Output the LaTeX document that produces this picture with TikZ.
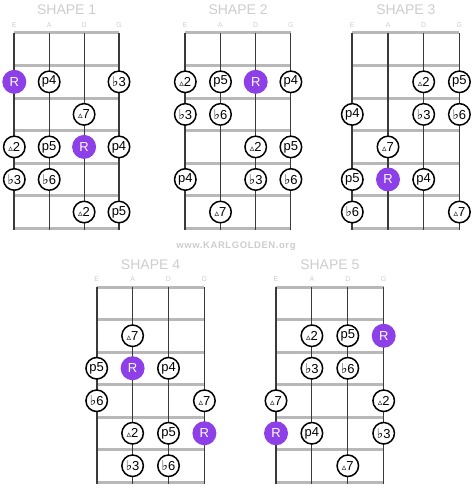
\documentclass[tikz,border=0pt]{standalone}
\usepackage{fontspec}
\setmainfont{Liberation Sans}
\newfontfamily\symfont{DejaVu Sans}
\newfontfamily\markfont[LetterSpace=6]{Liberation Sans}
\usetikzlibrary{positioning}

\definecolor{rootpurple}{RGB}{141,63,232}
\definecolor{fretgray}{RGB}{184,184,184}
\definecolor{stringgray}{RGB}{58,58,58}
\definecolor{labelgray}{RGB}{205,205,205}

\newcommand{\majtri}{{\symfont\fontsize{9}{9}\selectfont ▵}}
\newcommand{\flatsign}{{\symfont\fontsize{13.5}{13.5}\selectfont ♭}}

\tikzset{
    note/.style={
        circle,
        draw=black,
        line width=1.5pt,
        fill=white,
        minimum size=21.5pt,
        inner sep=0pt,
        font=\fontsize{13}{13}\selectfont
    },
    root/.style={
        circle,
        fill=rootpurple,
        text=white,
        minimum size=24pt,
        inner sep=0pt,
        font=\fontsize{13}{13}\selectfont
    },
    fret/.style={
        fretgray,
        line width=3pt
    },
    gstring/.style={
        stringgray,
        line width=1.1pt
    },
    estring/.style={
        stringgray,
        line width=1.8pt
    },
    shapetitle/.style={
        labelgray,
        font=\fontsize{14}{14}\selectfont
    },
    stringname/.style={
        labelgray,
        font=\fontsize{7}{7}\selectfont
    },
    webmark/.style={
        labelgray,
        font=\markfont\bfseries\fontsize{9.5}{9.5}\selectfont
    },
}

\begin{document}
\begin{tikzpicture}[x=1pt, y=-1pt]
\useasboundingbox (0,0) rectangle (474,487);

% Shape 1
\begin{scope}[shift={(14.3,33)}, x=34.9pt, y=-32.55pt]
\foreach \f in {0,...,6} \draw[fret] (0,\f) -- (3,\f);
\draw[estring] (0,0) -- (0,6.05);
\foreach \s in {1,2,3} \draw[gstring] (\s,0) -- (\s,6.05);
\node[shapetitle] (t1) at (1.5,-0.71) {SHAPE 1};
\node[stringname] (n1E) at (0,-0.25) {E};
\node[stringname] (n1A) at (1,-0.25) {A};
\node[stringname] (n1D) at (2,-0.25) {D};
\node[stringname] (n1G) at (3,-0.25) {G};
\node[root] (s1E2) at (0,1.5) {R};
\node[note] (s1A2) at (1,1.5) {p4};
\node[note] (s1G2) at (3,1.5) {\flatsign3};
\node[note] (s1D3) at (2,2.5) {\majtri7};
\node[note] (s1E4) at (0,3.5) {\majtri2};
\node[note] (s1A4) at (1,3.5) {p5};
\node[root] (s1D4) at (2,3.5) {R};
\node[note] (s1G4) at (3,3.5) {p4};
\node[note] (s1E5) at (0,4.5) {\flatsign3};
\node[note] (s1A5) at (1,4.5) {\flatsign6};
\node[note] (s1D6) at (2,5.5) {\majtri2};
\node[note] (s1G6) at (3,5.5) {p5};
\end{scope}

% Shape 2
\begin{scope}[shift={(185.3,33)}, x=35.2pt, y=-32.55pt]
\foreach \f in {0,...,6} \draw[fret] (0,\f) -- (3,\f);
\draw[estring] (0,0) -- (0,6.05);
\foreach \s in {1,2,3} \draw[gstring] (\s,0) -- (\s,6.05);
\node[shapetitle] (t2) at (1.5,-0.71) {SHAPE 2};
\node[stringname] (n2E) at (0,-0.25) {E};
\node[stringname] (n2A) at (1,-0.25) {A};
\node[stringname] (n2D) at (2,-0.25) {D};
\node[stringname] (n2G) at (3,-0.25) {G};
\node[note] (s2E2) at (0,1.5) {\majtri2};
\node[note] (s2A2) at (1,1.5) {p5};
\node[root] (s2D2) at (2,1.5) {R};
\node[note] (s2G2) at (3,1.5) {p4};
\node[note] (s2E3) at (0,2.5) {\flatsign3};
\node[note] (s2A3) at (1,2.5) {\flatsign6};
\node[note] (s2D4) at (2,3.5) {\majtri2};
\node[note] (s2G4) at (3,3.5) {p5};
\node[note] (s2E5) at (0,4.5) {p4};
\node[note] (s2D5) at (2,4.5) {\flatsign3};
\node[note] (s2G5) at (3,4.5) {\flatsign6};
\node[note] (s2A6) at (1,5.5) {\majtri7};
\end{scope}

% Shape 3
\begin{scope}[shift={(352.3,33)}, x=35.7pt, y=-32.55pt]
\foreach \f in {0,...,6} \draw[fret] (0,\f) -- (3,\f);
\draw[estring] (0,0) -- (0,6.05);
\foreach \s in {1,2,3} \draw[gstring] (\s,0) -- (\s,6.05);
\node[shapetitle] (t3) at (1.5,-0.71) {SHAPE 3};
\node[stringname] (n3E) at (0,-0.25) {E};
\node[stringname] (n3A) at (1,-0.25) {A};
\node[stringname] (n3D) at (2,-0.25) {D};
\node[stringname] (n3G) at (3,-0.25) {G};
\node[note] (s3D2) at (2,1.5) {\majtri2};
\node[note] (s3G2) at (3,1.5) {p5};
\node[note] (s3E3) at (0,2.5) {p4};
\node[note] (s3D3) at (2,2.5) {\flatsign3};
\node[note] (s3G3) at (3,2.5) {\flatsign6};
\node[note] (s3A4) at (1,3.5) {\majtri7};
\node[note] (s3E5) at (0,4.5) {p5};
\node[root] (s3A5) at (1,4.5) {R};
\node[note] (s3D5) at (2,4.5) {p4};
\node[note] (s3E6) at (0,5.5) {\flatsign6};
\node[note] (s3G6) at (3,5.5) {\majtri7};
\end{scope}

% Watermark
\node[webmark] (site) at (236,246) {www.KARLGOLDEN.org};

% Shape 4
\begin{scope}[shift={(96.7,287)}, x=35.9pt, y=-32.5pt]
\foreach \f in {0,...,6} \draw[fret] (0,\f) -- (3,\f);
\draw[estring] (0,0) -- (0,6.05);
\foreach \s in {1,2,3} \draw[gstring] (\s,0) -- (\s,6.05);
\node[shapetitle] (t4) at (1.5,-0.68) {SHAPE 4};
\node[stringname] (n4E) at (0,-0.24) {E};
\node[stringname] (n4A) at (1,-0.24) {A};
\node[stringname] (n4D) at (2,-0.24) {D};
\node[stringname] (n4G) at (3,-0.24) {G};
\node[note] (s4A2) at (1,1.5) {\majtri7};
\node[note] (s4E3) at (0,2.5) {p5};
\node[root] (s4A3) at (1,2.5) {R};
\node[note] (s4D3) at (2,2.5) {p4};
\node[note] (s4E4) at (0,3.5) {\flatsign6};
\node[note] (s4G4) at (3,3.5) {\majtri7};
\node[note] (s4A5) at (1,4.5) {\majtri2};
\node[note] (s4D5) at (2,4.5) {p5};
\node[root] (s4G5) at (3,4.5) {R};
\node[note] (s4A6) at (1,5.5) {\flatsign3};
\node[note] (s4D6) at (2,5.5) {\flatsign6};
\end{scope}

% Shape 5
\begin{scope}[shift={(276,287)}, x=35.9pt, y=-32.5pt]
\foreach \f in {0,...,6} \draw[fret] (0,\f) -- (3,\f);
\draw[estring] (0,0) -- (0,6.05);
\foreach \s in {1,2,3} \draw[gstring] (\s,0) -- (\s,6.05);
\node[shapetitle] (t5) at (1.5,-0.68) {SHAPE 5};
\node[stringname] (n5E) at (0,-0.24) {E};
\node[stringname] (n5A) at (1,-0.24) {A};
\node[stringname] (n5D) at (2,-0.24) {D};
\node[stringname] (n5G) at (3,-0.24) {G};
\node[note] (s5A2) at (1,1.5) {\majtri2};
\node[note] (s5D2) at (2,1.5) {p5};
\node[root] (s5G2) at (3,1.5) {R};
\node[note] (s5A3) at (1,2.5) {\flatsign3};
\node[note] (s5D3) at (2,2.5) {\flatsign6};
\node[note] (s5E4) at (0,3.5) {\majtri7};
\node[note] (s5G4) at (3,3.5) {\majtri2};
\node[root] (s5E5) at (0,4.5) {R};
\node[note] (s5A5) at (1,4.5) {p4};
\node[note] (s5G5) at (3,4.5) {\flatsign3};
\node[note] (s5D6) at (2,5.5) {\majtri7};
\end{scope}

\end{tikzpicture}
\end{document}
